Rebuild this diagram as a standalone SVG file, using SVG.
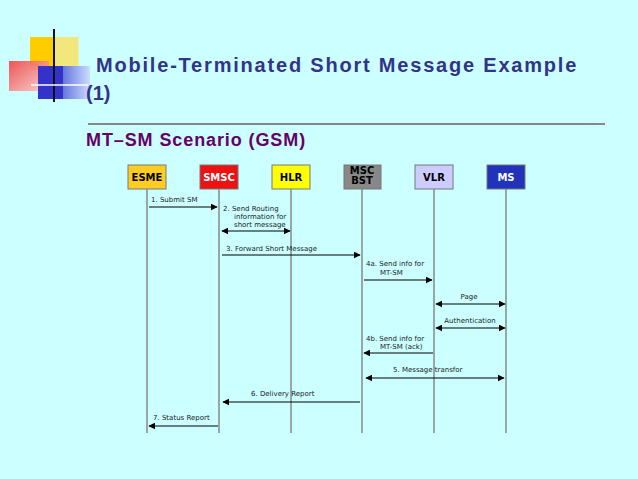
<svg xmlns="http://www.w3.org/2000/svg" width="638" height="479" viewBox="0 0 638 479">
<defs>
<marker id="ah" viewBox="0 0 10 10" refX="9" refY="5" markerWidth="7" markerHeight="7" markerUnits="userSpaceOnUse" orient="auto-start-reverse"><path d="M0,0L10,5L0,10z" fill="#000"/></marker>
<linearGradient id="rg" x1="0" y1="0" x2="1" y2="1"><stop offset="0" stop-color="#ee4444"/><stop offset="1" stop-color="#ffcccc"/></linearGradient>
<linearGradient id="bg2" x1="0" y1="0" x2="1" y2="0"><stop offset="0" stop-color="#6677dd"/><stop offset="1" stop-color="#ccddff"/></linearGradient>
</defs>
<style>
.box{stroke:#777;stroke-width:1}
.bl{font-family:"DejaVu Sans",sans-serif;font-weight:bold;font-size:10px;text-anchor:middle}
.life{stroke:#888;stroke-width:1.5}
.msg{stroke:#000;stroke-width:1.2;fill:none}
.lb{font-family:"DejaVu Sans",sans-serif;font-size:7px;fill:#222}
</style>
<rect width="638" height="479" fill="#ccffff"/>
<g id="deco">
<rect x="30" y="37" width="48" height="33" fill="#ffcc00"/>
<rect x="55" y="37" width="24" height="33" fill="#eeee99" opacity="0.8"/>
<rect x="9" y="61" width="40" height="30" fill="url(#rg)" opacity="0.9"/>
<rect x="38" y="66" width="25" height="33" fill="#3333cc"/>
<rect x="63" y="66" width="27" height="33" fill="url(#bg2)"/>
<line x1="54" y1="29" x2="54" y2="102" stroke="#111" stroke-width="2"/>
<line x1="31" y1="85" x2="88" y2="85" stroke="#fff" stroke-width="1.5"/>
</g>
<g id="title">
<text x="96" y="72" font-family="Liberation Sans,Arial,sans-serif" font-weight="bold" font-size="20" letter-spacing="1.8" fill="#333388">Mobile-Terminated Short Message Example</text>
<text x="86" y="100" font-family="Liberation Sans,Arial,sans-serif" font-weight="bold" font-size="20" fill="#333388">(1)</text>
<line x1="88" y1="124" x2="605" y2="124" stroke="#888" stroke-width="2"/>
<text x="86" y="146" font-family="Liberation Sans,Arial,sans-serif" font-weight="bold" font-size="18" letter-spacing="0.9" fill="#660066">MT–SM Scenario (GSM)</text>
</g>
<g id="n-esme"><rect class="box" x="128" y="165" width="38" height="24" fill="#ffcc22"/><text class="bl" x="147" y="181">ESME</text></g>
<g id="n-smsc"><rect class="box" x="200" y="165" width="38" height="24" fill="#ee1111"/><text class="bl" x="219" y="181" fill="#fff">SMSC</text></g>
<g id="n-hlr"><rect class="box" x="272" y="165" width="38" height="24" fill="#ffff00"/><text class="bl" x="291" y="181">HLR</text></g>
<g id="n-msc"><rect class="box" x="344" y="165" width="37" height="24" fill="#888"/><text class="bl" x="362" y="174" font-size="7">MSC</text><text class="bl" x="362" y="184" font-size="7">BST</text></g>
<g id="n-vlr"><rect class="box" x="415" y="165" width="38" height="24" fill="#ccccff"/><text class="bl" x="434" y="181">VLR</text></g>
<g id="n-ms"><rect class="box" x="487" y="165" width="38" height="24" fill="#2233bb"/><text class="bl" x="506" y="181" fill="#fff">MS</text></g>
<g id="lifelines">
<line class="life" x1="147" y1="189" x2="147" y2="433"/>
<line class="life" x1="219" y1="189" x2="219" y2="433"/>
<line class="life" x1="291" y1="189" x2="291" y2="433"/>
<line class="life" x1="362" y1="189" x2="362" y2="433"/>
<line class="life" x1="434" y1="189" x2="434" y2="433"/>
<line class="life" x1="506" y1="189" x2="506" y2="433"/>
</g>
<g id="connectors">
<line class="msg" x1="149" y1="207" x2="217" y2="207" marker-end="url(#ah)"/>
<line class="msg" x1="222" y1="231" x2="290" y2="231" marker-start="url(#ah)" marker-end="url(#ah)"/>
<line class="msg" x1="222" y1="255" x2="360" y2="255" marker-end="url(#ah)"/>
<line class="msg" x1="364" y1="280" x2="432" y2="280" marker-end="url(#ah)"/>
<line class="msg" x1="436" y1="304" x2="505" y2="304" marker-start="url(#ah)" marker-end="url(#ah)"/>
<line class="msg" x1="436" y1="328" x2="505" y2="328" marker-start="url(#ah)" marker-end="url(#ah)"/>
<line class="msg" x1="433" y1="353" x2="364" y2="353" marker-end="url(#ah)"/>
<line class="msg" x1="366" y1="378" x2="504" y2="378" marker-start="url(#ah)" marker-end="url(#ah)"/>
<line class="msg" x1="360" y1="402" x2="223" y2="402" marker-end="url(#ah)"/>
<line class="msg" x1="218" y1="426" x2="149" y2="426" marker-end="url(#ah)"/>
</g>
<g id="labels">
<text class="lb" x="151" y="202">1. Submit SM</text>
<text class="lb" x="223" y="211">2. Send Routing</text>
<text class="lb" x="234" y="219">information for</text>
<text class="lb" x="234" y="227">short message</text>
<text class="lb" x="226" y="251">3. Forward   Short   Message</text>
<text class="lb" x="366" y="266">4a. Send info for</text>
<text class="lb" x="380" y="275">MT-SM</text>
<text class="lb" x="469" y="299" text-anchor="middle">Page</text>
<text class="lb" x="470" y="323" text-anchor="middle">Authentication</text>
<text class="lb" x="366" y="341">4b. Send info for</text>
<text class="lb" x="380" y="349">MT-SM (ack)</text>
<text class="lb" x="393" y="372">5. Message   transfor</text>
<text class="lb" x="251" y="396">6. Delivery   Report</text>
<text class="lb" x="153" y="420">7. Status Report</text>
</g>
</svg>
